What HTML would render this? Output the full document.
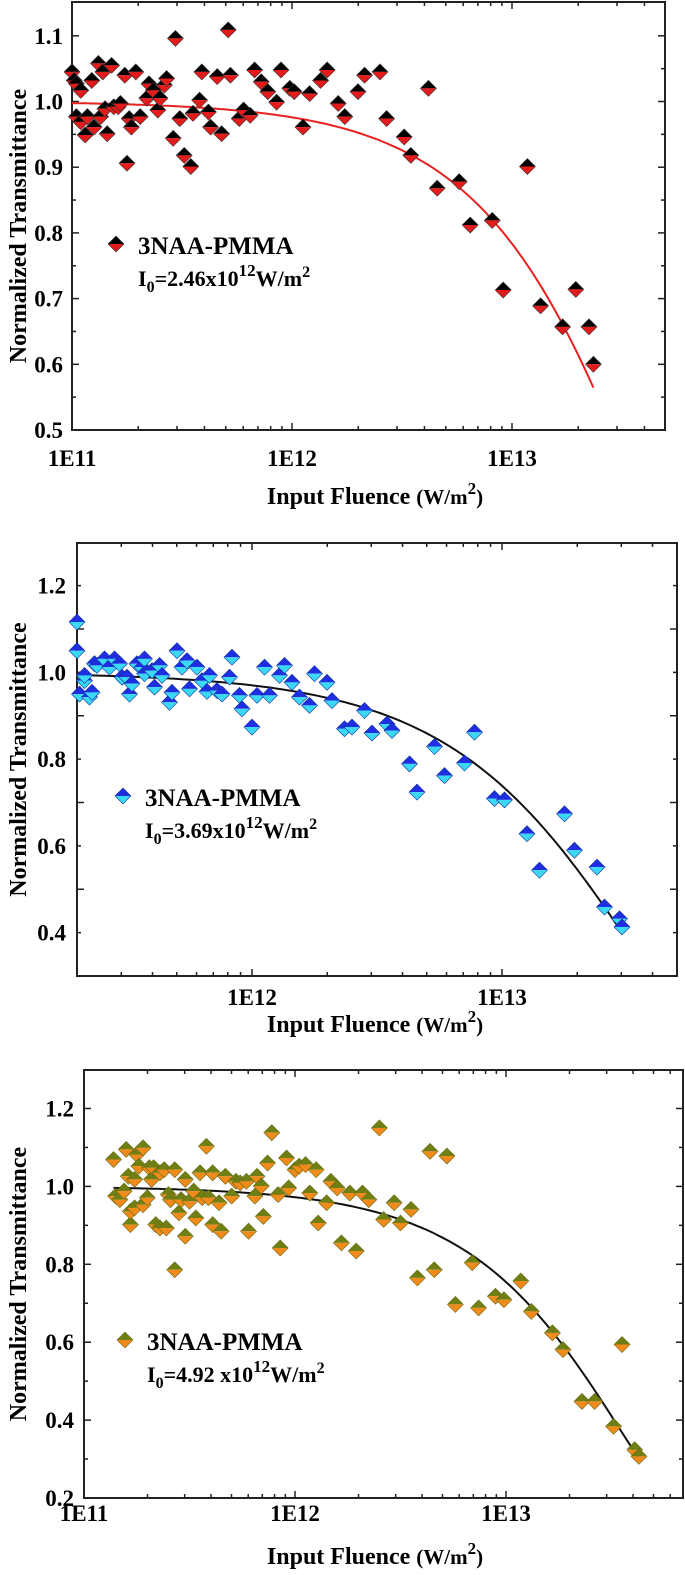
<!DOCTYPE html>
<html><head><meta charset="utf-8"><style>
html,body{margin:0;padding:0;background:#fff;}
svg{display:block;font-family:"Liberation Serif",serif;font-weight:bold;}
</style></head><body>
<svg id="fig" width="685" height="1575" viewBox="0 0 685 1575" xmlns="http://www.w3.org/2000/svg"></svg>
<script>
// ---------- Panel 1 data ----------
const p1LogX=[11.00,11.01,11.02,11.04,11.02,11.04,11.06,11.07,11.09,11.10,11.12,11.13,11.14,11.15,11.16,11.18,11.19,11.21,11.22,11.24,11.25,11.26,11.27,11.29,11.31,11.34,11.35,11.37,11.39,11.40,11.42,11.43,11.46,11.47,11.49,11.51,11.54,11.55,11.58,11.59,11.62,11.63,11.66,11.68,11.71,11.72,11.76,11.78,11.81,11.83,11.86,11.89,11.93,11.95,11.99,12.01,12.05,12.08,12.13,12.16,12.21,12.24,12.30,12.33,12.40,12.43,12.51,12.54,12.62,12.66,12.76,12.81,12.91,12.96,13.07,13.13,13.23,13.29,13.35,13.37];
const p1T=[1.045,1.032,1.027,1.017,0.977,0.969,0.949,0.977,1.032,0.961,1.058,0.977,1.045,0.989,0.951,1.055,0.992,0.992,0.997,1.040,0.906,0.974,0.961,1.045,0.977,1.005,1.027,1.017,0.987,1.005,1.025,1.035,0.944,1.096,0.974,0.918,0.901,0.982,1.002,1.045,0.984,0.961,1.038,0.951,1.109,1.040,0.974,0.987,0.979,1.048,1.030,1.015,0.999,1.048,1.020,1.015,0.961,1.012,1.032,1.048,0.997,0.977,1.015,1.040,1.045,0.974,0.946,0.918,1.020,0.868,0.878,0.812,0.819,0.713,0.901,0.689,0.657,0.714,0.657,0.600];
const p1Fit=[41,11.0,13.37]; // Is (1e12 W/m2), fit start log, fit end log
const p1YTicks=["0.5","0.6","0.7","0.8","0.9","1.0","1.1"];
const p1XTicks=["1E11","1E12","1E13"];
// ---------- Panel 2 data ----------
const p2LogX=[11.30,11.30,11.31,11.33,11.33,11.35,11.36,11.37,11.38,11.41,11.43,11.45,11.47,11.48,11.50,11.51,11.52,11.54,11.56,11.57,11.57,11.60,11.61,11.63,11.64,11.67,11.68,11.70,11.72,11.74,11.75,11.78,11.80,11.82,11.83,11.86,11.88,11.91,11.92,11.95,11.96,12.00,12.02,12.05,12.07,12.11,12.13,12.16,12.19,12.23,12.25,12.30,12.32,12.37,12.40,12.45,12.48,12.54,12.56,12.63,12.66,12.73,12.77,12.85,12.89,12.97,13.01,13.10,13.15,13.25,13.29,13.38,13.41,13.47,13.48];
const p2T=[1.116,1.050,0.950,0.981,0.993,0.943,0.954,1.020,1.016,1.031,1.012,1.031,1.020,0.989,0.989,0.950,0.974,1.020,1.012,1.031,0.997,1.004,0.966,1.016,0.993,0.931,0.954,1.050,1.012,1.027,0.962,1.012,0.981,0.956,0.993,0.958,0.950,0.989,1.035,0.947,0.916,0.874,0.947,1.012,0.947,0.993,1.016,0.977,0.943,0.924,0.997,0.977,0.935,0.870,0.874,0.912,0.860,0.881,0.866,0.789,0.724,0.829,0.762,0.791,0.862,0.709,0.706,0.628,0.544,0.674,0.590,0.551,0.459,0.432,0.413];
const p2Fit=[33,11.30,13.48];
const p2YTicks=["0.4","0.6","0.8","1.0","1.2"];
const p2XTicks=["1E12","1E13"];
// ---------- Panel 3 data ----------
const p3LogX=[11.14,11.15,11.17,11.19,11.20,11.21,11.22,11.22,11.24,11.24,11.25,11.26,11.28,11.28,11.30,11.31,11.32,11.33,11.34,11.36,11.36,11.38,11.39,11.40,11.41,11.43,11.43,11.45,11.46,11.48,11.48,11.50,11.52,11.53,11.55,11.56,11.58,11.59,11.61,11.61,11.64,11.65,11.67,11.70,11.72,11.74,11.77,11.78,11.81,11.82,11.84,11.85,11.87,11.89,11.92,11.93,11.96,11.97,12.00,12.02,12.05,12.07,12.10,12.11,12.15,12.17,12.20,12.22,12.26,12.29,12.32,12.35,12.40,12.42,12.47,12.50,12.55,12.58,12.64,12.66,12.72,12.76,12.84,12.87,12.95,12.99,13.07,13.12,13.22,13.27,13.36,13.42,13.51,13.55,13.61,13.63];
const p3T=[1.069,0.975,0.966,0.988,1.095,1.026,0.902,0.936,1.018,0.945,1.082,1.052,1.099,0.953,0.971,1.048,1.018,1.048,0.902,1.035,0.893,1.043,0.893,0.979,0.966,0.786,1.043,0.932,0.966,0.872,1.018,0.962,0.988,0.919,1.035,0.971,1.103,0.971,1.035,0.902,0.958,0.885,1.026,0.975,1.013,1.009,1.013,0.885,0.975,1.026,1.001,0.923,1.060,1.138,0.979,0.842,1.073,0.996,1.043,1.052,1.056,0.983,1.043,0.906,0.958,1.013,0.996,0.855,0.983,0.834,0.983,0.966,1.150,0.915,0.958,0.906,0.941,0.765,1.090,0.786,1.078,0.697,0.804,0.688,0.718,0.709,0.757,0.679,0.624,0.581,0.448,0.448,0.384,0.594,0.324,0.307];
const p3Fit=[35.5,11.14,13.63];
const p3YTicks=["0.2","0.4","0.6","0.8","1.0","1.2"];
const p3XTicks=["1E11","1E12","1E13"];

const NS="http://www.w3.org/2000/svg";
const svg=document.getElementById('fig');
function mk(tag,attrs,parent){const e=document.createElementNS(NS,tag);for(const k in attrs)e.setAttribute(k,attrs[k]);(parent||svg).appendChild(e);return e;}

function panel(cfg){
  const g=mk('g',{});
  
  
  const X=l=>cfg.x0+(l-cfg.lx0)*cfg.dec;
  const Y=v=>cfg.yb-(v-cfg.ymin)*cfg.ypx;
  const tk=mk('g',{stroke:'#222','stroke-width':1.5},g);
  
  
  for(let v=cfg.ymin;v<=cfg.ymax+1e-9;v+=cfg.yminor){
    const y=Y(v);const major=Math.abs(((v-cfg.ymin)/cfg.ystep)-Math.round((v-cfg.ymin)/cfg.ystep))<1e-6;const L=major?7:4;
    if(y<cfg.yt+2||y>cfg.yb-1)continue;
    mk('line',{x1:cfg.x0,x2:cfg.x0+L,y1:y,y2:y},tk);mk('line',{x1:cfg.x1,x2:cfg.x1-L,y1:y,y2:y},tk);
  }
  for(let d=Math.floor(cfg.lx0);d<=Math.ceil(cfg.lx1);d++){
    for(let m=1;m<10;m++){
      const l=d+Math.log10(m);const x=X(l);if(x<cfg.x0+1||x>cfg.x1-1)continue;const L=m==1?7:4;
      mk('line',{x1:x,x2:x,y1:cfg.yb,y2:cfg.yb-L},tk);mk('line',{x1:x,x2:x,y1:cfg.yt,y2:cfg.yt+L},tk);
    }
  }
  const fr=mk('rect',{x:cfg.x0,y:cfg.yt,width:cfg.x1-cfg.x0,height:cfg.yb-cfg.yt,fill:'none',stroke:'#222','stroke-width':2},g);
  
  
  cfg.yTicks.forEach(s=>{
    const t=mk('text',{x:cfg.ylabX,y:Y(parseFloat(s))+8,'text-anchor':'end','font-size':23},g);t.textContent=s;
    
    
  });
  cfg.xTicks.forEach(s=>{
    const l=parseFloat(s.slice(2));
    const t=mk('text',{x:X(l),y:cfg.xlabY,'text-anchor':'middle','font-size':23},g);t.textContent=s;
    
    
  });
  const yt=mk('text',{x:0,y:0,'text-anchor':'middle','font-size':24,transform:`translate(${cfg.ytitleX},${(cfg.yt+cfg.yb)/2+cfg.ytitleDy}) rotate(-90)`},g);
  yt.textContent='Normalized Transmittance';
  
  
  const xt=mk('text',{x:cfg.xtitleX,y:cfg.xtitleY,'text-anchor':'middle','font-size':24},g);
  xt.innerHTML='Input Fluence <tspan font-size="21">(W/m</tspan><tspan font-size="17" dy="-10">2</tspan><tspan font-size="21" dy="10">)</tspan>';
  
  
  const f=cfg.fit;let d='';
  for(let i=0;i<=120;i++){const l=f[1]+(f[2]-f[1])*i/120;const I=Math.pow(10,l-12);const v=Math.exp(-I/f[0]);d+=(i?'L':'M')+X(l).toFixed(1)+','+Y(v).toFixed(1);}
  const c=mk('path',{d:d,fill:'none',stroke:cfg.lineColor,'stroke-width':2},g);
  
  
  const mg=mk('g',{},g);
  
  
  function diamond(cx,cy,parent){
    const w=8,h=8;
    const dg=mk('g',{},parent);
    mk('polygon',{points:`${cx-w},${cy} ${cx},${cy-h} ${cx+w},${cy}`,fill:cfg.topC},dg);
    mk('polygon',{points:`${cx-w},${cy} ${cx},${cy+h} ${cx+w},${cy}`,fill:cfg.botC},dg);
    mk('polygon',{points:`${cx-w},${cy} ${cx},${cy-h} ${cx+w},${cy} ${cx},${cy+h}`,fill:'none',stroke:cfg.edge,'stroke-width':0.6},dg);
    return dg;
  }
  cfg.lx.forEach((l,i)=>{
    const p=diamond(X(l),Y(cfg.ty[i]),mg);
    
    
  });
  const lg=mk('g',{},g);
  
  
  const ld=diamond(cfg.legX,cfg.legY,lg);
  
  
  const t1=mk('text',{x:cfg.legX+22,y:cfg.legY+10,'font-size':25},lg);t1.textContent='3NAA-PMMA';
  
  
  const t2=mk('text',{x:cfg.legX+22,y:cfg.legY+42,'font-size':22},lg);
  t2.innerHTML='I<tspan font-size="16" dy="6">0</tspan><tspan dy="-6">='+cfg.i0+'x10</tspan><tspan font-size="17" dy="-10">12</tspan><tspan dy="10">W/m</tspan><tspan font-size="16" dy="-9">2</tspan>';
  
  
}

panel({name:'panel-1',x0:72,x1:665,yt:2,yb:430,lx0:11,lx1:13.70,dec:220,ymin:0.5,ymax:1.15,ypx:657,ystep:0.1,yminor:0.05,
  yTicks:p1YTicks,xTicks:p1XTicks,ylabX:63,xlabY:466,ytitleX:26,ytitleDy:10,xtitleX:375,xtitleY:504,
  lx:p1LogX,ty:p1T,fit:p1Fit,lineColor:'#e82020',topC:'#000',botC:'#e31b1b',edge:'#333',legX:116,legY:244,i0:'2.46'});
panel({name:'panel-2',x0:77,x1:677,yt:543,yb:976,lx0:11.30,lx1:13.70,dec:250,ymin:0.3,ymax:1.3,ypx:433.75,ystep:0.2,yminor:0.1,
  yTicks:p2YTicks,xTicks:p2XTicks,ylabX:66,xlabY:1005,ytitleX:26,ytitleDy:0,xtitleX:375,xtitleY:1032,
  lx:p2LogX,ty:p2T,fit:p2Fit,lineColor:'#111',topC:'#1f2ee0',botC:'#3ad8f5',edge:'#1030a0',legX:123,legY:796,i0:'3.69'});
panel({name:'panel-3',x0:84,x1:683,yt:1070,yb:1498,lx0:11,lx1:13.84,dec:211,ymin:0.2,ymax:1.3,ypx:389.5,ystep:0.2,yminor:0.1,
  yTicks:p3YTicks,xTicks:p3XTicks,ylabX:74,xlabY:1521,ytitleX:26,ytitleDy:0,xtitleX:375,xtitleY:1564,
  lx:p3LogX,ty:p3T,fit:p3Fit,lineColor:'#111',topC:'#6f7f14',botC:'#f08a1a',edge:'#6b6b10',legX:125,legY:1340,i0:'4.92 '});
</script>
</body></html>
